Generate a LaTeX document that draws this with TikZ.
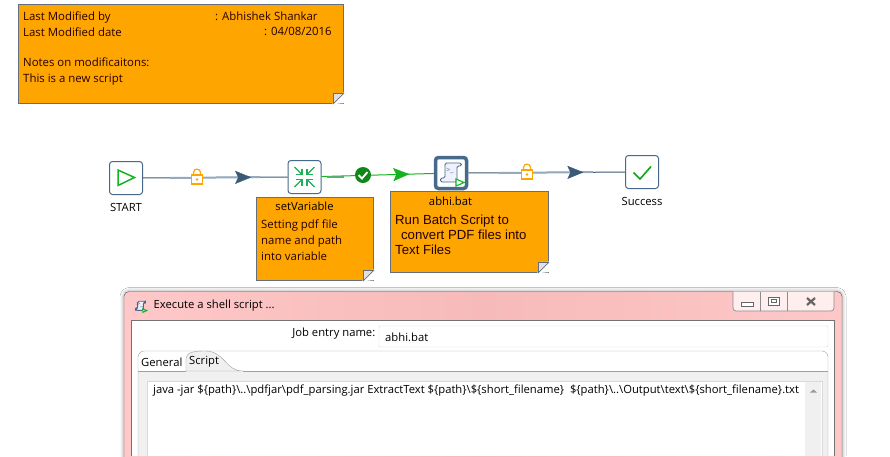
\documentclass[tikz,border=0pt]{standalone}
\usepackage{fontspec}
\setmainfont{Open Sans}
\newfontfamily\arialfont{Liberation Sans}
\usetikzlibrary{positioning,arrows.meta,decorations.markings,shadows.blur}
\definecolor{noteorange}{RGB}{255,165,0}
\definecolor{noteedge}{RGB}{100,110,125}
\definecolor{hopblue}{RGB}{58,90,120}
\definecolor{hoplight}{RGB}{150,170,190}
\definecolor{hopgreen}{RGB}{20,180,30}
\definecolor{iconblue}{RGB}{70,105,140}
\definecolor{iconteal}{RGB}{30,175,90}
\definecolor{chromepink}{RGB}{255,200,200}
\definecolor{chromedark}{RGB}{246,186,186}
\definecolor{framegray}{RGB}{160,160,160}
\tikzset{
  uitext/.style={font=\fontsize{11.25}{14}\selectfont, inner sep=0pt, text=black},
  taskbox/.style={draw=iconblue, line width=1pt, fill=white, rounded corners=3pt, minimum size=33pt, inner sep=0pt},
  notebox/.style={draw=noteedge, line width=1pt, fill=noteorange, inner sep=0pt},
  notetext/.style={font=\fontsize{11.4}{16}\selectfont, align=left, anchor=north west, inner sep=0pt, text=black!85!red},
  hopline/.style={line width=1pt, draw=hopblue},
  hopmark/.style={postaction={decorate, decoration={markings,
      mark=at position #1 with {\arrow[xshift=7pt]{Stealth[length=16pt,width=13pt,inset=3pt]}}}}},
  winbutton/.style={draw=black!45, fill=white!70!chromepink, line width=.7pt},
  pics/lockicon/.style={code={
    \draw[noteorange, line width=1.2pt] (-3.5,-2) -- (-3.5,-4.5) .. controls (-3.5,-9) and (3.5,-9) .. (3.5,-4.5) -- (3.5,-2);
    \draw[noteorange, line width=1.2pt, fill=white] (-5.5,-2) rectangle (5.5,7);
    \fill[noteorange] (0,2.5) circle (1.3);
  }},
  pics/inarrow/.style={code={
    \draw[iconteal, line width=1.3pt] (2.5,2.5) -- (10,10);
    \draw[iconteal, line width=1.3pt] (2.5,8.5) -- (2.5,2.5) -- (8.5,2.5);
  }},
  pics/scrollicon/.style={code={
    \draw[iconblue, line width=.9pt, fill=blue!6, rounded corners=1.5pt] (-6,-10) -- (10.5,-10) -- (10.5,-7) -- (6,-7) -- (6,9) -- (-10.5,9) -- (-10.5,5) -- (-6,5) -- cycle;
    \node[font=\fontsize{7}{7}\selectfont, text=iconblue, inner sep=0pt] (scrollprompt) at (-1,-2) {>\_};
    \draw[hopgreen, line width=1.1pt, fill=white] (5,6) -- (13,9.5) -- (5,13) -- cycle;
  }},
}
\newcommand{\foldcorner}[1]{
  \fill[white, draw=white, line width=1.2pt] ([xshift=-10pt]#1.south east) -- ([yshift=10pt]#1.south east) -- ([xshift=1pt,yshift=1pt]#1.south east) -- cycle;
  \draw[noteedge, fill=black!12, line width=.7pt] ([xshift=-10pt]#1.south east) -- ([xshift=-10pt,yshift=10pt]#1.south east) -- ([yshift=10pt]#1.south east) -- cycle;
}
\begin{document}
\begin{tikzpicture}[x=1pt,y=-1pt]
  \useasboundingbox[fill=white] (0,0) rectangle (890,456);

  % Nota superior
  \node[notebox, minimum width=325pt, minimum height=99pt] (noteinfo) at (180.5,53.5) {};
  \foldcorner{noteinfo}
  \node[notetext] (noteinfotext) at (23,11.5) {Last Modified by\\Last Modified date\\[14pt]Notes on modificaitons:\\This is a new script};
  \node[notetext] (notewho) at (215,11.5) {: Abhishek Shankar};
  \node[notetext] (notewhen) at (264,27.5) {: 04/08/2016};

  % Tareas
  \node[taskbox] (start) at (126,178) {};
  \draw[hopgreen, line width=1.5pt] (118,170) -- (134.5,177.5) -- (118,185.5) -- cycle;
  \node[uitext, below=8pt of start] (startlabel) {START};

  \node[taskbox] (setvar) at (304.5,177) {};
  \foreach \ang in {0,90,180,270} {
    \pic[rotate=\ang] at (setvar) {inarrow};
  }

  \node[taskbox, line width=3.5pt, minimum size=31pt] (abhi) at (451,173) {};
  \pic at (abhi) {scrollicon};

  \node[taskbox] (success) at (642,172) {};
  \draw[hopgreen!90!black, line width=1.6pt] (633.5,172.5) -- (640,179) -- (651,166.5);
  \node[uitext, below=8pt of success] (successlabel) {Success};

  % Conectores
  \draw[hopline] (start) -- (setvar);
  \draw[hoplight, line width=2pt] ([xshift=27pt]start.east) -- ([xshift=-27pt]setvar.west);
  \path[color=hopblue, hopmark=0.70] (start) -- (setvar);
  \draw[hopline, draw=hopgreen] (setvar) -- (abhi);
  \draw[hoplight!50!hopgreen, line width=1.6pt] ([xshift=5pt]setvar.east) -- ([xshift=22pt]setvar.east);
  \path[color=hopgreen, hopmark=0.72] (setvar) -- (abhi);
  \draw[hopline] (abhi) -- (success);
  \draw[hoplight, line width=2pt] ([xshift=30pt]abhi.east) -- ([xshift=-32pt]success.west);
  \path[color=hopblue, hopmark=0.69] (abhi) -- (success);
  \pic at (197,177) {lockicon};
  \pic at (527,172) {lockicon};
  \node[circle, fill=hopgreen!75!black, minimum size=16pt, inner sep=0pt] (hopcheck) at (363,175) {};
  \draw[white, line width=1.8pt] (358.5,175) -- (362,178.5) -- (367.5,172);

  % Notas de las tareas
  \node[notebox, minimum width=117pt, minimum height=83pt] (notevar) at (314.5,238.5) {};
  \foldcorner{notevar}
  \node[uitext] (setvarlabel) at (304.5,206) {setVariable};
  \node[notetext] (notevartext) at (261,220) {Setting pdf file\\name and path\\into variable};

  \node[notebox, minimum width=158pt, minimum height=81pt] (notebat) at (469,231.5) {};
  \foldcorner{notebat}
  \node[uitext] (abhilabel) at (450.5,201) {abhi.bat};
  \node[notetext, font=\arialfont\fontsize{13.2}{15}\selectfont] (notebattext) at (395,214.5) {Run Batch Script to\\\ \,convert PDF files into\\Text Files};

  % Ventana
  \shadedraw[left color=chromepink, right color=chromepink, middle color=chromedark, rounded corners=5pt, draw=black!65, blur shadow={shadow blur steps=6, shadow xshift=0pt, shadow yshift=0pt, shadow blur radius=4pt}]
    (124,470) -- (124,291.5) -- (842,291.5) -- (842,470) -- cycle;
  \fill[white] (131.5,320) rectangle (834.5,456);
  \draw[black!55] (131.5,456) -- (131.5,320) -- (834.5,320) -- (834.5,456);

  \node[uitext, anchor=west] (wintitle) at (153.5,306) {Execute a shell script ...};
  \pic[scale=.48] at (140.5,306) {scrollicon};

  \draw[winbutton, rounded corners=3pt] (733,291.5) -- (733,311) -- (834,311) -- (834,291.5);
  \draw[black!45] (760,291.5) -- (760,311) (787,291.5) -- (787,311);
  \draw[black!60, fill=white, line width=.7pt] (741,302) rectangle (753,306);
  \draw[black!60, fill=white, line width=.7pt] (768,297) rectangle (779,305);
  \draw[black!60, line width=.7pt] (771,299.5) rectangle (776,302.5);
  \draw[black!60, line width=2.2pt] (807,298) -- (815,305) (815,298) -- (807,305);

  \node[uitext, anchor=east] (jobname) at (375.5,334) {Job entry name:};
  \node[draw=black!15, fill=white, rounded corners=1pt, minimum width=449pt, minimum height=21pt, inner sep=0pt] (jobfield) at (603.5,336.5) {};
  \node[uitext, anchor=west] (jobvalue) at (385,337) {abhi.bat};

  % Pestañas
  \fill[black!6] (138,371) rectangle (828,456);
  \draw[framegray, rounded corners=6pt] (138,456) -- (138,351) -- (828,351) -- (828,456);
  \draw[framegray] (243,371) -- (828,371);
  \draw[framegray] (138,371) -- (186,371);
  \fill[black!6, draw=framegray] (186,371) -- (186,358) .. controls (187,352) and (195,351) .. (205,351) .. controls (225,351) and (225,371) .. (243,371) -- cycle;
  \node[uitext, anchor=west] (tabgeneral) at (141,362) {General};
  \node[uitext, anchor=west] (tabscript) at (189,362) {Script};

  \fill[white] (147,381) rectangle (822,456);
  \draw[black!15] (147,456) -- (147,381) -- (822,381) -- (822,456);
  \fill[black!6] (805,382) rectangle (821,456);
  \fill[black!40] (810,392.5) -- (813.5,389.5) -- (817,392.5) -- cycle;
  \node[uitext, anchor=west] (scripttext) at (153,391) {java -jar \$\{path\}\textbackslash..\textbackslash pdfjar\textbackslash pdf\_parsing.jar ExtractText \$\{path\}\textbackslash\$\{short\_filename\}\ \ \$\{path\}\textbackslash..\textbackslash Output\textbackslash text\textbackslash\$\{short\_filename\}.txt};
\end{tikzpicture}
\end{document}
